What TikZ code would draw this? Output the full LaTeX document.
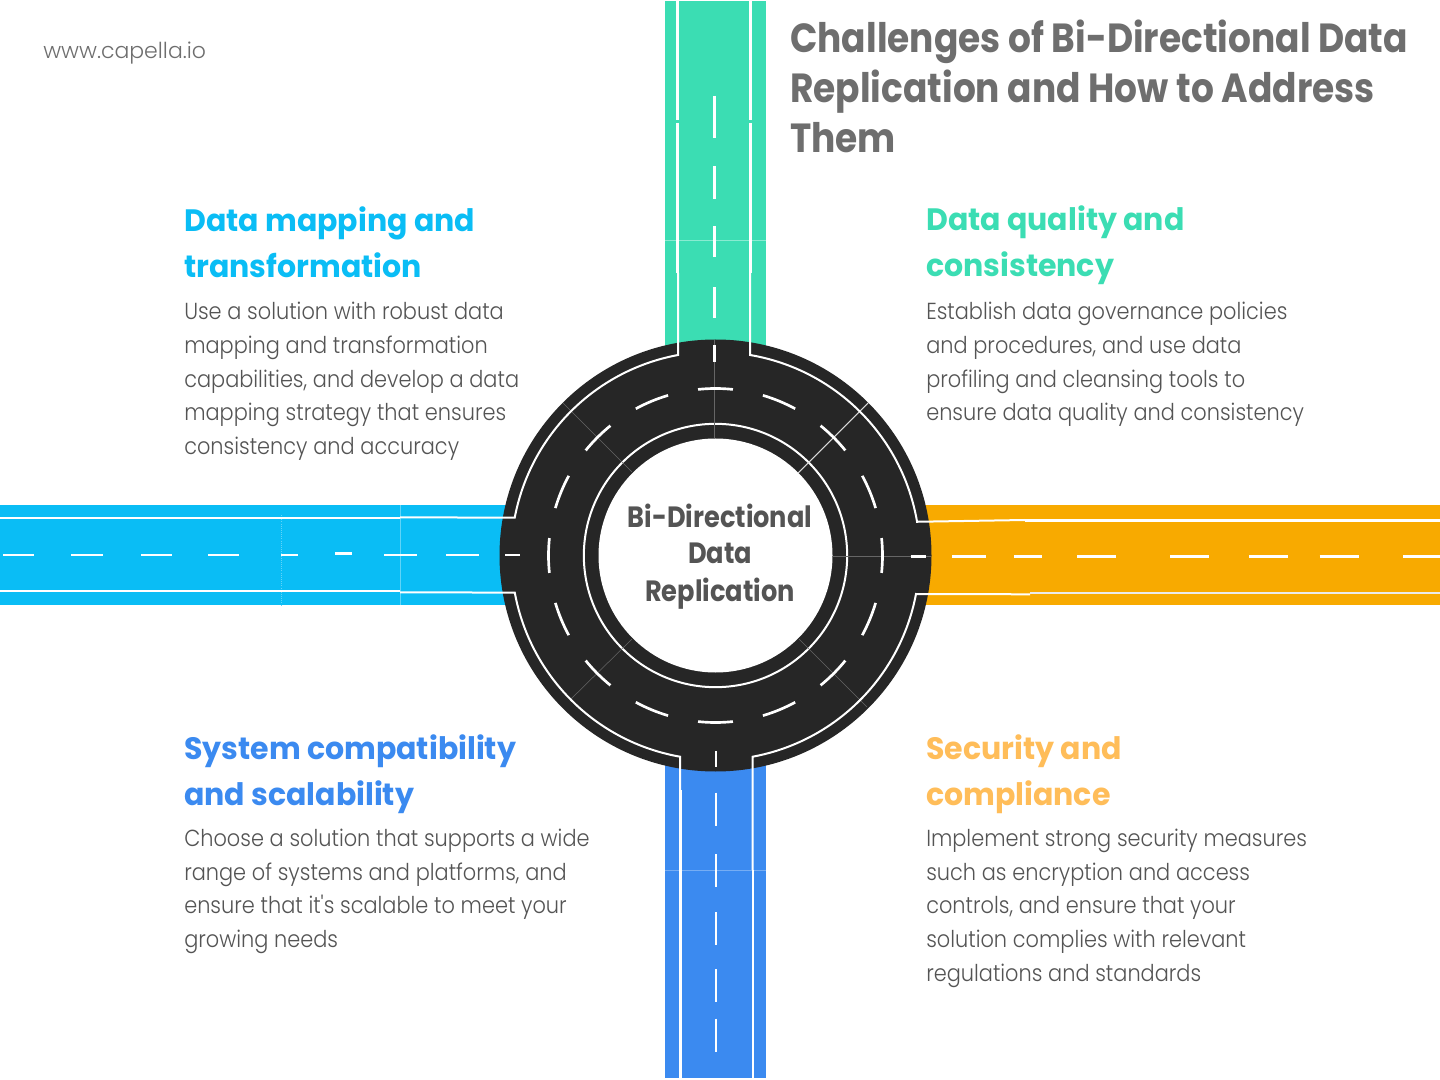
\documentclass[tikz,border=0pt]{standalone}
\usepackage{fontspec}
\newfontfamily\bodyf{Poppins Light}[FakeStretch=0.9]
\newfontfamily\sitef{Poppins Light}[FakeStretch=1.0]
\newfontfamily\headf{Poppins Bold}[FakeStretch=0.97]
\newfontfamily\titlef{Poppins Bold}[FakeStretch=0.885]
\newfontfamily\centerf{Poppins Bold}[FakeStretch=0.875]
\definecolor{roadg}{HTML}{3BDDB3}
\definecolor{roadb}{HTML}{0ABDF5}
\definecolor{roado}{HTML}{F8AA00}
\definecolor{roadn}{HTML}{3B8AF0}
\definecolor{heado}{HTML}{FFBD59}
\definecolor{asph}{HTML}{262626}
\definecolor{txt}{HTML}{545454}
\definecolor{ttl}{HTML}{6E6E6E}
\tikzset{
  wl/.style={draw=white,line width=1.5pt},
  wt/.style={draw=white,line width=2.25pt},
  dashw/.style={draw=white,line width=2pt},
  seam/.style={line width=.6pt},
  rad/.style={draw=black!60!white,line width=.4pt},
  heading/.style={anchor=base west,inner sep=0pt,font=\headf\fontsize{23.2}{34.8}\selectfont},
  bodytxt/.style={anchor=base west,inner sep=0pt,text=txt,font=\bodyf\fontsize{17.4}{25.3}\selectfont},
  centertxt/.style={anchor=base,inner sep=0pt,text=txt,font=\centerf\fontsize{22}{27.8}\selectfont}
}
\newcommand{\ringdash}[1]{\draw[dashw] (715.5,555.5) ++(-#1-6:167) arc[start angle=#1+6,end angle=#1-6,radius=125.25pt];}
\begin{document}
\begin{tikzpicture}[x=.75pt,y=-.75pt]
\fill[white] (0,0) rectangle (1440,1080);
\useasboundingbox (0,0) rectangle (1440,1080);
% roads
\fill[roadg] (665.3,1) rectangle (765.5,350);
\fill[roadn] (665.3,760) rectangle (765.5,1078);
\fill[roadb] (0,505.3) rectangle (510,605.5);
\fill[roado] (920,505.3) rectangle (1440,605.5);
% seams
\draw[seam,draw=roadg!60!white] (665.3,240) -- (765.5,240);
\draw[seam,draw=roadn!70!white] (665.3,870) -- (765.5,870);
\draw[seam,draw=roadb!65!white] (400,505.3) -- (400,605.5);
\draw[seam,draw=roadb!65!white,densely dotted] (281,515) -- (281,605);
% disc
\fill[asph] (715.5,555.5) circle[radius=162pt];
\fill[white] (715.5,555.5) circle[radius=87.75pt];
\draw[wl] (715.5,555.5) circle[radius=98.75pt];
% radial joints
\draw[rad] (714.5,340) -- (714.5,438);
\draw[rad] (832,556) -- (931,556);
\draw[rad] (632,472) -- (563,403);
\draw[rad] (632,639) -- (570,700);
\draw[rad] (799,639) -- (867,707);
\draw[draw=white!85!black,line width=.8pt] (798,473) -- (868,403);
% kerb lines
\draw[wt] (677.3,1) -- (677.3,120);
\draw[wt] (677.3,123) -- (677.3,273);
\draw[wt] (750.3,1) -- (750.3,120);
\draw[wt] (750.3,123) -- (750.3,273);
\draw[wl] (678,273) -- (678,355) arc[start angle=100.5,end angle=169.3,radius=153pt] -- (400,517.3);
\draw[wl] (0,518) -- (400,518);
\draw[wl] (750,273) -- (750,355) arc[start angle=80.4,end angle=9.7,radius=153pt] -- (1025,520);
\draw[wt] (1025,520.3) -- (1440,520.3);
\draw[wl] (1030,594.3) -- (916,594) arc[start angle=-10.7,end angle=-79.5,radius=153pt] -- (752.7,870);
\draw[wl,draw=white!92!black] (1030,593) -- (1440,593);
\draw[wl] (752.7,870) -- (752.7,1078);
\draw[wt] (680,1078) -- (680,790);
\draw[wl] (680,790) -- (680,756.7) arc[start angle=260,end angle=190.4,radius=153pt] -- (400,592.3);
\draw[wl] (0,591) -- (400,591);
% ring dashes
\foreach \a in {0,22.5,...,337.5} {\ringdash{\a}}
% straight dashes, top
\foreach \s/\e in {95.7/137.7,166/198.7,226/257,287.3/318.3,345/362} {\draw[dashw] (714.7,\s) -- (714.7,\e);}
% bottom
\foreach \s/\e in {751/767,792.7/826,854/886.7,912.3/945,969.3/1002,1018.7/1051.7} {\draw[dashw] (716,\s) -- (716,\e);}
% left
\foreach \s/\e in {3/34,71/103,141/172,208/239,281/298,384/417,446/479,505/520} {\draw[dashw] (\s,555) -- (\e,555);}
\draw[dashw] (335,553.5) -- (352,553.5);
% right
\foreach \s/\e in {910.7/926,952/985.5,1014/1042,1077/1116,1170/1208.6,1249/1288,1319.7/1358.6,1403/1440} {\draw[dashw] (\s,556.2) -- (\e,556.2);}
% texts
\node[anchor=base west,inner sep=0pt,text=ttl,font=\sitef\fontsize{16.5}{20}\selectfont] (site) at (43,58.5) {www.capella.io};
\node[anchor=base west,inner sep=0pt,text=ttl,font=\titlef\fontsize{30.5}{37.5}\selectfont] (title) at (790,53) {\vtop{\hbox{Challenges of Bi-Directional Data}\hbox{Replication and How to Address}\hbox{Them}}};
\node[centertxt] (c1) at (720,527.2) {Bi-Directional};
\node[centertxt] (c2) at (720,564) {Data};
\node[centertxt] (c3) at (720,601.5) {Replication};
\node[heading,text=roadb] (h1) at (184,231.5) {\vtop{\hbox{Data mapping and}\hbox{transformation}}};
\node[bodytxt] (b1) at (184,319.7) {\vtop{\hbox{Use a solution with robust data}\hbox{mapping and transformation}\hbox{capabilities, and develop a data}\hbox{mapping strategy that ensures}\hbox{consistency and accuracy}}};
\node[heading,text=roadg] (h2) at (926,230.3) {\vtop{\hbox{Data quality and}\hbox{consistency}}};
\node[bodytxt] (b2) at (926,319.7) {\vtop{\hbox{Establish data governance policies}\hbox{and procedures, and use data}\hbox{profiling and cleansing tools to}\hbox{ensure data quality and consistency}}};
\node[heading,text=roadn] (h3) at (184,759.3) {\vtop{\hbox{System compatibility}\hbox{and scalability}}};
\node[bodytxt] (b3) at (184,846.5) {\vtop{\hbox{Choose a solution that supports a wide}\hbox{range of systems and platforms, and}\hbox{ensure that it's scalable to meet your}\hbox{growing needs}}};
\node[heading,text=heado] (h4) at (926,759.3) {\vtop{\hbox{Security and}\hbox{compliance}}};
\node[bodytxt] (b4) at (926,846.5) {\vtop{\hbox{Implement strong security measures}\hbox{such as encryption and access}\hbox{controls, and ensure that your}\hbox{solution complies with relevant}\hbox{regulations and standards}}};
\end{tikzpicture}
\end{document}
